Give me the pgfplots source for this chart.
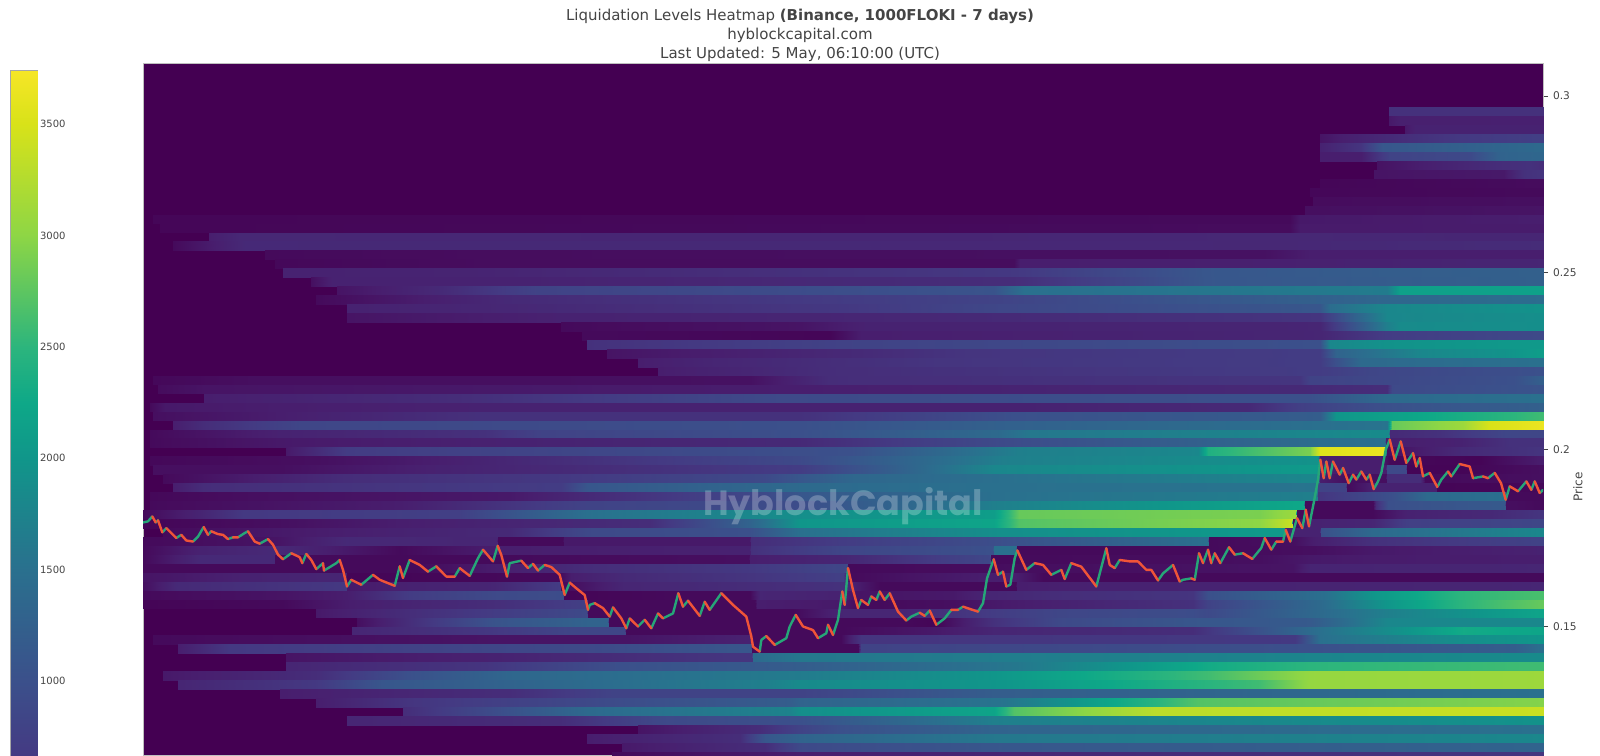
\documentclass[border=0pt]{standalone}
\usepackage{pgfplots}
\pgfplotsset{compat=1.18}
\usepackage{fontspec}
\setmainfont{DejaVu Sans}
\newfontfamily\wmfont{Poppins}
\definecolor{txt}{HTML}{444444}
\definecolor{bgv}{RGB}{68,0,82}
\pgfplotsset{colormap={liq}{
 rgb255(0pt)=(68,0,82) rgb255(300pt)=(72,30,110) rgb255(668pt)=(68,58,131)
 rgb255(1000pt)=(59,80,139) rgb255(1500pt)=(42,112,142) rgb255(2000pt)=(16,150,138)
 rgb255(2250pt)=(14,168,136) rgb255(2500pt)=(44,181,125) rgb255(3000pt)=(142,214,69)
 rgb255(3500pt)=(216,226,25) rgb255(3738pt)=(246,230,38)}}
\newcount\bandn
% one row of the heatmap: price of the row, then time/value pairs along it
\newcommand\band[2]{%
 \global\bandn=0 \gdef\coa{}\gdef\cob{}%
 \pgfmathsetmacro\lo{#1-0.00130}\pgfmathsetmacro\hi{#1+0.00130}%
 \foreach \x/\v in {#2}{%
  \xdef\coa{\coa (\x,\lo) [\v]}\xdef\cob{\cob (\x,\hi) [\v]}\global\advance\bandn by 1 }%
 \edef\temp{\noexpand\addplot[surf,shader=interp,forget plot,mesh/cols=\the\bandn,point meta=explicit,mesh/check=false] coordinates {\coa\cob};}\temp}
% price path, split in rising and falling strokes
\def\pricepath{143/.1795,148/.1798,152.3/.1812,155.7/.1795,158/.1801,162.3/.1767,166.3/.1779,171.3/.1765,176.3/.1751,181.3/.1760,186.3/.1744,193/.1741,198/.1755,203.7/.1782,208/.1760,211.3/.1770,218/.1762,223/.1760,228/.1748,233/.1753,238/.1753,244.7/.1765,248/.1770,254.7/.1741,259.7/.1735,268/.1748,273/.1732,278/.1704,283/.1691,291.3/.1708,299.7/.1697,302.3/.1680,306.3/.1706,311.3/.1689,316.3/.1663,323/.1680,324/.1659,336.3/.1680,339.7/.1689,343/.1661,347/.1614,351.3/.1633,361.3/.1619,373/.1647,379.7/.1633,394.7/.1616,399.7/.1671,403/.1638,409.7/.1689,419.7/.1675,428/.1656,436.3/.1671,446.3/.1642,454.7/.1642,459.7/.1666,469.7/.1644,478/.1694,483/.1718,493/.1685,497.7/.1729,501.3/.1703,507/.1642,509.7/.1680,521.3/.1687,528/.1666,533/.1678,538/.1659,544.7/.1675,551.3/.1669,559.7/.1647,564.7/.1590,569.7/.1625,576.3/.1609,584.7/.1590,588/.1548,589.7/.1562,594.7/.1567,603/.1553,609.7/.1529,613/.1555,621.3/.1524,626.3/.1496,629.7/.1524,638/.1501,644.7/.1520,651.3/.1496,658/.1538,663/.1524,673/.1538,678.3/.1595,683/.1557,688/.1574,699.7/.1531,704.7/.1571,709.7/.1548,721.3/.1595,733/.1562,746.3/.1529,751.3/.1473,753/.1444,759.7/.1430,761.3/.1463,766.3/.1474,774.7/.1449,786.3/.1468,789.7/.1501,795.7/.1534,803/.1501,813/.1491,818/.1468,826.3/.1482,828/.1506,833/.1477,838/.1520,842.3/.1600,844.7/.1562,848/.1666,853/.1604,858/.1553,861.3/.1576,868/.1562,871.3/.1586,876.3/.1576,879.7/.1600,884.7/.1576,889.7/.1595,898/.1543,906.3/.1518,911.3/.1529,919.7/.1540,924.7/.1531,929.7/.1546,936.3/.1506,944.7/.1524,951.3/.1548,958/.1548,963/.1557,978/.1543,983/.1567,987/.1637,993.7/.1691,998/.1647,1003/.1656,1006.3/.1614,1010.3/.1619,1014.7/.1694,1017.3/.1716,1026.3/.1661,1034.7/.1680,1043/.1675,1051.3/.1647,1061.3/.1661,1064.7/.1635,1071.3/.1680,1081.3/.1670,1096.3/.1614,1106.3/.1722,1109.7/.1675,1114.7/.1666,1119.7/.1689,1129.7/.1685,1138/.1685,1146.3/.1661,1151.3/.1661,1158/.1631,1163/.1651,1173/.1675,1179.7/.1628,1183/.1633,1191.3/.1637,1194.7/.1633,1199/.1708,1203/.1680,1208/.1718,1211.3/.1680,1214.7/.1708,1220.3/.1680,1229/.1725,1234.7/.1704,1243/.1708,1252.3/.1692,1261.3/.1723,1264.7/.1751,1271.3/.1718,1276.3/.1741,1283/.1741,1285.7/.1774,1290.3/.1741,1297/.1807,1302.3/.1779,1305.7/.1831,1309/.1784,1313.7/.1850,1318/.1916,1320.3/.1972,1323.7/.1920,1326.3/.1967,1329.7/.1920,1333/.1967,1339.7/.1930,1343/.1949,1348.7/.1906,1353/.1930,1356.3/.1916,1361.3/.1939,1366.3/.1916,1369.7/.1930,1373.7/.1889,1378/.1911,1381.3/.1935,1385.7/.2000,1389.7/.2029,1394.7/.1972,1400.7/.2024,1406.3/.1963,1413/.1991,1416.3/.1953,1419.7/.1977,1423/.1925,1429.7/.1935,1437.3/.1895,1441.3/.1916,1448/.1939,1451.3/.1925,1459.7/.1960,1469.7/.1953,1473/.1920,1483/.1925,1488/.1920,1494.7/.1935,1501/.1906,1505.7/.1859,1509.7/.1897,1518/.1883,1526.3/.1911,1531.3/.1887,1534.7/.1911,1539.7/.1878,1543/.1887}
\begin{document}
\begin{tikzpicture}[x=1pt,y=1pt]
\useasboundingbox (0,0) rectangle (800,377.5);
\begin{axis}[at={(71.5pt,0pt)},anchor=south west,width=700pt,height=346pt,scale only axis,
 xmin=143,xmax=1543,ymin=0.1138,ymax=0.3093,
 colormap name=liq,point meta min=0,point meta max=3738,
 axis background/.style={fill=bgv},
 xtick=\empty,ytick={0.15,0.2,0.25,0.3},
 yticklabels={0.15,0.2,0.25,0.3},
 yticklabel pos=right,ytick pos=right,
 tick style={color=txt,line width=0.4pt},
 major tick length=2.5pt,
 tick align=outside,
 axis line style={draw=gray!50,line width=0.4pt},
 yticklabel style={font=\fontsize{5.3}{6}\selectfont,text=txt,xshift=-1pt},
 /pgf/number format/assume math mode=true,
 ylabel={Price},
 every axis y label/.style={at={(axis description cs:1.025,0.387)},rotate=90,anchor=center,font=\fontsize{6}{7}\selectfont,text=txt},
 unbounded coords=jump,
 clip=true,
 axis on top=false,
]
\band{.29554}{1389/550,1543/550}
\band{.29301}{1389/250,1400/320,1543/330}
\band{.29048}{1405/250,1415/350,1543/350}
\band{.28795}{1320/200,1340/300,1400/500,1460/650,1543/750}
\band{.28542}{1320/350,1361/600,1382/1100,1543/1400}
\band{.28289}{1320/300,1361/300,1390/800,1470/900,1500/1300,1543/1350}
\band{.28036}{1377/180,1438/350,1499/500,1530/550,1543/500}
\band{.27783}{1374/200,1504/250,1524/550,1543/600}
\band{.2753}{1320/60,1543/120}
\band{.27277}{1310/70,1543/100}
\band{.27024}{1313/120,1543/150}
\band{.26771}{1305/150,1543/200}
\band{.26518}{153/60,1290/100,1300/250,1543/300}
\band{.26265}{160/60,1290/120,1300/270,1543/280}
\band{.26012}{209/300,240/430,800/400,1290/430,1543/400}
\band{.25759}{173/100,245/450,1290/430,1543/480}
\band{.25506}{265/100,495/130,1264/170,1310/300,1543/300}
\band{.25253}{275/80,495/130,1014/130,1020/300,1285/330,1543/400}
\band{.25}{283/350,485/380,556/420,1014/650,1208/1100,1387/1200,1543/1250}
\band{.24747}{311/150,332/350,510/350,1014/500,1208/1100,1543/1250}
\band{.24494}{337/200,439/450,536/800,994/1050,1024/1500,1387/1650,1400/2150,1543/2150}
\band{.24241}{316/100,398/250,510/450,994/800,1208/1100,1387/1350,1543/1450}
\band{.23988}{347/350,510/420,851/650,989/850,1320/1100,1330/1450,1387/1800,1543/1950}
\band{.23735}{347/200,561/350,851/400,989/450,1320/600,1356/1300,1387/1800,1543/1900}
\band{.23482}{561/100,800/200,866/350,1320/400,1387/1700,1400/1850,1543/1900}
\band{.23229}{582/100,724/80,830/60,861/300,1320/400,1387/700,1543/900}
\band{.22976}{587/550,689/650,856/800,1320/1000,1330/1800,1387/1950,1543/2050}
\band{.22723}{607/200,851/450,968/600,1320/700,1336/1300,1422/1800,1504/1950,1543/2100}
\band{.2247}{638/300,714/400,938/600,1320/700,1336/1000,1361/1400,1543/1500}
\band{.22217}{658/300,826/500,1320/700,1371/850,1543/1000}
\band{.21964}{153/80,255/150,510/150,750/170,830/500,1300/600,1310/800,1514/1000,1543/1250}
\band{.21711}{158/120,204/200,800/300,1310/450,1387/500,1392/900,1543/1050}
\band{.21458}{204/300,459/500,765/900,1310/1000,1387/1400,1543/1500}
\band{.21205}{150/100,165/250,280/300,485/350,1014/350,1250/450,1300/750,1387/1000,1543/1250}
\band{.20952}{153/150,280/300,485/550,800/550,1014/1000,1320/1200,1336/2000,1514/2500,1543/2600}
\band{.20699}{173/300,204/500,301/850,485/900,800/1000,994/1250,1387/1550,1392/2800,1463/3100,1489/3500,1543/3650}
\band{.20446}{150/100,280/350,485/550,541/800,800/1000,999/1400,1030/1600,1320/1800,1389/1850,1389.5/450,1440/550,1506/850,1543/850}
\band{.20193}{150/100,280/250,510/350,800/450,994/900,1320/1450,1385/1500,1385.5/300,1460/350,1510/550,1543/550}
\band{.1994}{286/250,347/700,485/800,851/1000,1019/1700,1198/1800,1208/2400,1310/2900,1320/3550,1384/3650,1387/150,1460/450,1543/600}
\band{.19687}{150/80,316/150,434/300,561/500,800/900,1004/1700,1318/1950,1320/300,1380/300,1390/80,1480/50,1543/300}
\band{.19434}{153/150,280/150,439/350,561/450,800/700,994/1800,1318/2050,1320/300,1386/300,1387/900,1406/900,1407/50,1460/50,1543/150}
\band{.19181}{163/100,347/500,561/650,765/900,800/1100,851/1350,1318/1800,1320/300,1346/150,1386/150,1387/500,1420/500,1425/100,1543/150}
\band{.18928}{173/300,204/500,561/700,587/1100,714/1300,800/1400,994/1500,1317/1550,1318/800,1346/800,1346.5/100,1375/350,1436/350,1436.5/50,1543/80}
\band{.18675}{150/80,255/150,510/250,765/900,800/1100,994/1500,1317/1700,1318/600,1393/1000,1427/1400,1505/1500,1505.5/100,1543/100}
\band{.18422}{150/100,280/200,400/300,587/800,800/950,994/1700,1304/2250,1304.5/100,1373/100,1376/500,1388/1000,1505/1150,1505.5/150,1543/100}
\band{.18169}{143/100,203/400,243/650,459/750,587/1500,800/1900,994/2100,1019/2800,1260/2900,1296/3100,1296.5/100,1373/100,1407/350,1493/450,1543/600}
\band{.17916}{143/60,276/150,400/300,650/500,750/1300,800/2000,994/2200,1019/2700,1259/3000,1292/3400,1292.5/100,1310/350,1373/400,1407/750,1543/850}
\band{.17663}{163/100,276/250,510/450,587/900,750/1000,800/1500,994/1900,1284/2050,1284.5/350,1320/350,1320.5/1000,1373/1400,1543/1800}
\band{.1741}{143/100,276/200,346/450,485/400,497/400,497.5/100,563/100,563.5/250,750/250,750.5/500,843/700,990/950,1207/1500,1208/1500,1208.5/100,1293/150,1313/300,1373/550,1543/800}
\band{.17157}{143/100,200/350,276/450,400/100,497/300,750/350,750.5/550,843/850,993/1000,993.5/1500,1016/1500,1016.5/100,1208/100,1313/150,1373/250,1543/350}
\band{.16904}{143/100,200/450,275/450,275.5/100,508/100,749/150,750/300,843/400,1050/1050,990/1100,990.5/100,1260/150,1310/250,1373/280,1543/300}
\band{.16651}{143/100,415/100,588/500,750/650,843/850,847/900,848/100,1293/200,1310/380,1543/400}
\band{.16398}{143/200,243/350,346/400,346.5/50,560/100,571/300,623/450,750/600,843/750,849/100,910/200,990/300,1016/300,1043/100,1543/100}
\band{.16145}{143/150,176/450,346/650,346.5/250,410/350,493/400,560/700,561/100,623/400,843/550,856/300,880/100,953/100,1016/100,1016.5/300,1096/350,1543/400}
\band{.15892}{143/100,283/200,346/300,410/700,493/900,563/950,563.5/50,675/100,750/100,760/400,843/350,853/200,953/250,990/400,1056/500,1193/600,1208/1000,1326/1500,1373/2000,1460/2500,1543/2650}
\band{.15639}{143/50,283/100,350/300,493/500,587/750,587.5/100,755/100,757/300,843/250,860/100,953/150,993/250,1063/350,1193/550,1208/800,1320/1400,1387/2000,1463/2500,1543/2800}
\band{.15386}{316/250,408/500,587/900,588/100,700/100,793/100,843/400,903/400,993/700,1060/850,1193/950,1208/900,1387/1700,1543/2200}
\band{.15133}{357/150,408/500,493/1050,591/1300,608/1300,608.5/100,793/100,843/100,903/100,936/50,993/550,1060/900,1193/1100,1310/1150,1387/1800,1543/1800}
\band{.1488}{352/400,493/650,573/850,625/850,625.5/100,843/100,936/250,993/400,1193/500,1320/1500,1463/2300,1543/2200}
\band{.14627}{153/100,493/200,626/200,750/350,750.5/100,841/100,861/600,1295/650,1320/1500,1463/1900,1543/2000}
\band{.14374}{178/300,230/650,493/850,588/900,751/1100,751.5/100,858/100,861/800,1315/1000,1514/1200,1543/1500}
\band{.14121}{286/200,493/350,726/600,752/600,752.5/1400,800/1600,1543/1850}
\band{.13868}{286/400,485/600,622/1000,800/1200,1019/1600,1208/2300,1310/2500,1543/2600}
\band{.13615}{163/250,316/500,408/1000,510/1350,800/1650,994/2000,1208/2600,1310/3050,1543/3100}
\band{.13362}{178/400,316/650,383/1100,765/1700,800/1850,1004/2000,1259/2600,1310/3050,1543/3100}
\band{.13109}{280/300,510/500,612/800,800/800,994/1200,1543/1500}
\band{.12856}{316/300,408/600,561/850,790/1200,800/1300,1004/1550,1106/2200,1198/2700,1310/2800,1543/2950}
\band{.12603}{403/500,587/1400,790/1750,800/1900,994/2200,1014/2700,1157/3300,1543/3400}
\band{.1235}{347/400,561/500,663/900,800/1000,994/1700,1543/1950}
\band{.12097}{638/200,760/500,800/800,841/1000,994/1300,1543/1500}
\band{.11844}{587/300,740/500,765/1100,800/1300,994/1600,1543/1800}
\band{.11591}{622/250,765/500,800/900,994/1100,1543/1300}
\band{.11338}{612/100,800/300,1208/500,1543/600}
% price line: rising strokes green, falling strokes red
\gdef\upco{}\gdef\dnco{}\gdef\px{}\gdef\py{}
\foreach \x/\y in \pricepath {%
 \ifx\px\empty\else
  \pgfmathparse{\y>\py?1:0}%
  \ifnum\pgfmathresult=1
   \xdef\upco{\upco (\px,\py) (\x,\y) (nan,nan)}%
  \else
   \xdef\dnco{\dnco (\px,\py) (\x,\y) (nan,nan)}%
  \fi
 \fi
 \xdef\px{\x}\xdef\py{\y}}
\edef\temp{\noexpand\addplot[forget plot,no marks,color={rgb,255:red,38;green,166;blue,120},line width=1.2pt,line cap=round,line join=round] coordinates {\upco};}\temp
\edef\temp{\noexpand\addplot[forget plot,no marks,color={rgb,255:red,240;green,84;blue,56},line width=1.2pt,line cap=round,line join=round] coordinates {\dnco};}\temp
\node[font=\wmfont\fontsize{17.5}{20}\selectfont\bfseries,text=white,opacity=0.25,text opacity=0.25] at (axis cs:843,0.1842) {HyblockCapital};
\end{axis}
\begin{axis}[at={(5.5pt,0pt)},anchor=south west,width=13pt,height=342pt,scale only axis,
 xmin=0,xmax=1,ymin=668,ymax=3738,colormap name=liq,point meta min=0,point meta max=3738,
 xtick=\empty,ytick={1000,1500,2000,2500,3000,3500},
 yticklabel pos=right,ytick pos=right,major tick length=0pt,
 axis line style={draw=gray!70,line width=0.5pt},
 yticklabel style={font=\fontsize{5}{6}\selectfont,text=txt,xshift=-2pt},
 /pgf/number format/assume math mode=true,/pgf/number format/set thousands separator={},
]
\addplot[surf,shader=interp,mesh/cols=2,point meta=explicit,forget plot,mesh/check=false] coordinates {
 (0,668)[668] (1,668)[668] (0,1000)[1000] (1,1000)[1000] (0,1500)[1500] (1,1500)[1500] (0,2000)[2000] (1,2000)[2000]
 (0,2250)[2250] (1,2250)[2250] (0,2500)[2500] (1,2500)[2500] (0,3000)[3000] (1,3000)[3000] (0,3500)[3500] (1,3500)[3500] (0,3738)[3738] (1,3738)[3738]};
\end{axis}
\node[font=\fontsize{7.5}{8}\selectfont,text=txt] at (400,369.5) {Liquidation Levels Heatmap \textbf{(Binance, 1000FLOKI - 7 days)}};
\node[font=\fontsize{7.5}{8}\selectfont,text=txt] at (400,360) {hyblockcapital.com};
\node[font=\fontsize{7.5}{8}\selectfont,text=txt] at (400,350.5) {Last Updated: 5 May, 06:10:00 (UTC)};
\end{tikzpicture}
\end{document}
